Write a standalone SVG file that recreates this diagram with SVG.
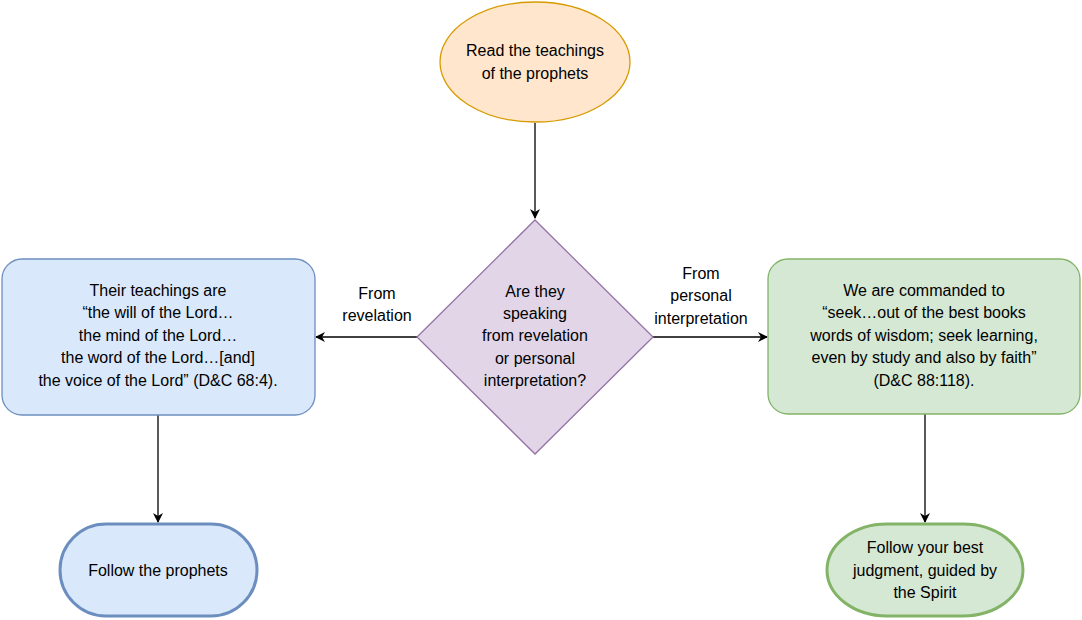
<svg xmlns="http://www.w3.org/2000/svg" width="1082" height="620" viewBox="0 0 1082 620">
<style>
text{font-family:"Liberation Sans",Arial,sans-serif;font-size:16px;fill:#000;text-anchor:middle}
.c{stroke:#000;stroke-width:1.3;fill:none;marker-end:url(#a)}
</style>
<defs><marker id="a" markerWidth="10" markerHeight="10" refX="9" refY="5" orient="auto" markerUnits="userSpaceOnUse"><path d="M0,0 L10,5 L0,10 L3,5 Z" fill="#000"/></marker></defs>
<rect width="1082" height="620" fill="#fff"/>
<g id="connectors">
<path class="c" d="M535,123 V218"/>
<path class="c" d="M417,337 H316"/>
<path class="c" d="M653,337 H767"/>
<path class="c" d="M158,415 V522"/>
<path class="c" d="M925,414 V522"/>
<text x="377" y="299">From</text><text x="377" y="321">revelation</text>
<text x="701" y="279">From</text><text x="701" y="301">personal</text><text x="701" y="324">interpretation</text>
</g>
<g id="start"><ellipse cx="535" cy="62" rx="95" ry="60" fill="#ffe6cc" stroke="#d79b00" stroke-width="1.3"/>
<text x="535" y="56">Read the teachings</text><text x="535" y="79">of the prophets</text></g>
<g id="decision"><polygon points="535,220 653,337 535,454 417,337" fill="#e1d5e7" stroke="#9673a6" stroke-width="1.3"/>
<text x="535" y="297">Are they</text><text x="535" y="319">speaking</text><text x="535" y="341">from revelation</text><text x="535" y="364">or personal</text><text x="535" y="386">interpretation?</text></g>
<g id="left"><rect x="2" y="259" width="313" height="156" rx="20" fill="#dae8fc" stroke="#6c8ebf" stroke-width="1.3"/>
<text x="158" y="296">Their teachings are</text><text x="158" y="318">“the will of the Lord…</text><text x="158" y="341">the mind of the Lord…</text><text x="158" y="363">the word of the Lord…[and]</text><text x="158" y="386">the voice of the Lord” (D&amp;C 68:4).</text></g>
<g id="right"><rect x="768" y="259" width="312" height="155" rx="20" fill="#d5e8d4" stroke="#82b366" stroke-width="1.3"/>
<text x="924" y="296">We are commanded to</text><text x="924" y="318">“seek…out of the best books</text><text x="924" y="341">words of wisdom; seek learning,</text><text x="924" y="363">even by study and also by faith”</text><text x="924" y="386">(D&amp;C 88:118).</text></g>
<g id="follow"><rect x="60" y="524" width="197" height="92" rx="46" fill="#dae8fc" stroke="#6c8ebf" stroke-width="3"/>
<text x="158" y="576">Follow the prophets</text></g>
<g id="judgment"><rect x="827" y="524" width="196" height="92" rx="60" ry="46" fill="#d5e8d4" stroke="#82b366" stroke-width="3"/>
<text x="925" y="553">Follow your best</text><text x="925" y="576">judgment, guided by</text><text x="925" y="598">the Spirit</text></g>
</svg>
